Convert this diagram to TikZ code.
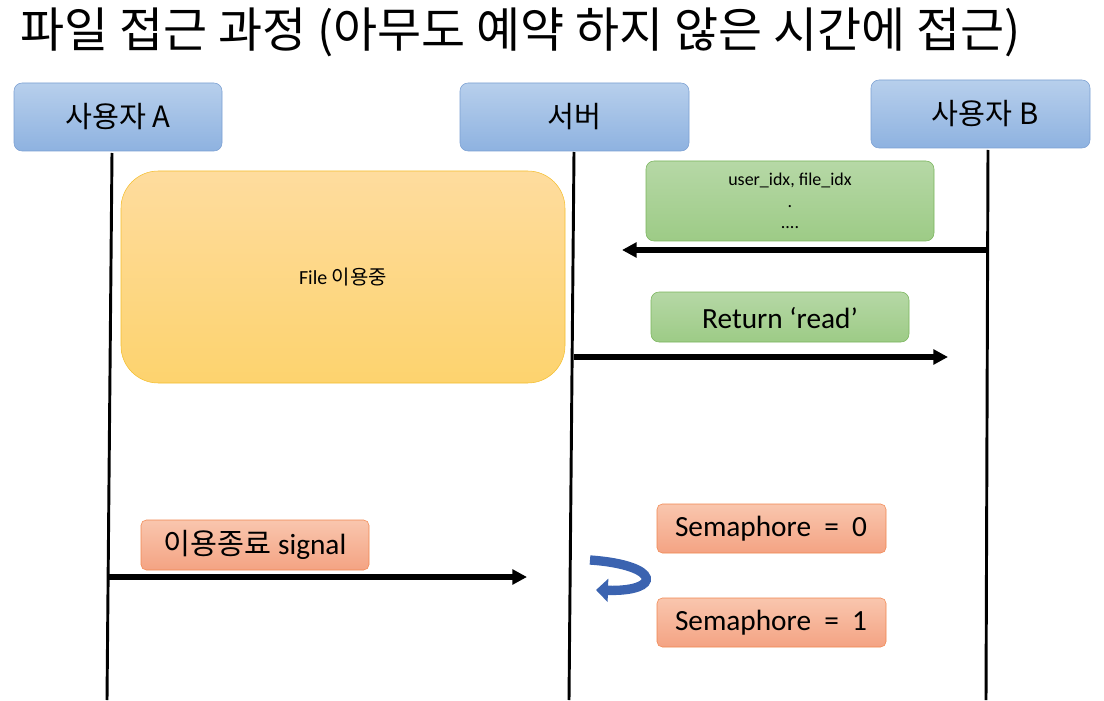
\documentclass[tikz,border=0pt]{standalone}
\usepackage{fontspec}
\setmainfont{Carlito}
\newfontfamily\kr{Noto Sans CJK KR}
\usetikzlibrary{arrows.meta}
\definecolor{bluetop}{HTML}{B7CFEC}
\definecolor{bluebot}{HTML}{8EB2E0}
\definecolor{blueline}{HTML}{7A9FD2}
\definecolor{yeltop}{HTML}{FEDC9E}
\definecolor{yelbot}{HTML}{FDD36E}
\definecolor{yelline}{HTML}{F4BE2E}
\definecolor{grntop}{HTML}{B6D8A6}
\definecolor{grnbot}{HTML}{9DCB86}
\definecolor{grnline}{HTML}{79B45C}
\definecolor{ortop}{HTML}{F9C6AE}
\definecolor{orbot}{HTML}{F4A383}
\definecolor{orline}{HTML}{F0864F}
\definecolor{curl}{HTML}{3B63B0}
\begin{document}
\begin{tikzpicture}[x=0.0264cm,y=-0.0264cm,
 actor/.style={draw=blueline,top color=bluetop,bottom color=bluebot,rounded corners=6pt},
 gbox/.style={draw=grnline,top color=grntop,bottom color=grnbot,rounded corners=6pt},
 obox/.style={draw=orline,top color=ortop,bottom color=orbot,rounded corners=4pt},
 big/.style={font=\fontsize{22}{26}\selectfont},
 life/.style={line width=2.2pt},
 msg/.style={line width=3.8pt,-{Triangle[length=11pt,width=11pt]}}]
\useasboundingbox (0,0) rectangle (1104,701);
\node[anchor=west,font=\kr\fontsize{36}{42}\selectfont,inner sep=0] (title) at (20,32) {파일 접근 과정 (아무도 예약 하지 않은 시간에 접근)};
\path[actor] (14,83) rectangle (222,151); \node[font=\kr\fontsize{22}{26}\selectfont] (A) at (118,117) {사용자 A};
\path[actor] (460,83) rectangle (689,151); \node[font=\kr\fontsize{22}{26}\selectfont] (S) at (574,117) {서버};
\path[actor] (871,80) rectangle (1090,148); \node[font=\kr\fontsize{22}{26}\selectfont] (B) at (985,114) {사용자 B};
\coordinate (a1) at (112,153); \coordinate (a2) at (107,700);
\coordinate (s1) at (574,152); \coordinate (s2) at (569,700);
\coordinate (b1) at (988,150); \coordinate (b2) at (986,700);
\draw[life] (a1)--(a2); \draw[life] (s1)--(s2); \draw[life] (b1)--(b2);
\path[draw=yelline,top color=yeltop,bottom color=yelbot,rounded corners=28pt] (121,171) rectangle (565,383);
\node (use) at (343,277) {\fontsize{15}{18}\selectfont File {\kr 이용중}};
\path[gbox] (646,161) rectangle (934,241);
\node[align=center,font=\fontsize{13.5}{16}\selectfont] (g1) at (790,201) {user\_idx, file\_idx\\.\\....};
\coordinate (m1s) at (988,250); \coordinate (m1e) at (622,250);
\draw[msg] (m1s)--(m1e);
\path[gbox] (651,292) rectangle (909,342);
\node[big] (ret) at (780,318) {Return ‘read’};
\coordinate (m2s) at (574,357); \coordinate (m2e) at (948,357);
\draw[msg] (m2s)--(m2e);
\path[obox] (141,520) rectangle (369,570);
\node[big] (sig) at (255,545) {{\kr 이용종료} signal};
\path[obox] (657,504) rectangle (886,553);
\node[big] (sem0) at (771,529) {Semaphore\ \ =\ \ 0};
\path[obox] (657,598) rectangle (886,647);
\node[big] (sem1) at (771,623) {Semaphore\ \ =\ \ 1};
\coordinate (m3s) at (108,577); \coordinate (m3e) at (527,577);
\draw[msg] (m3s)--(m3e);
\draw[curl,line width=7pt,-{Triangle[length=9pt,width=17pt]}] (590,560) .. controls (662,565) and (662,592) .. (596,590);
\end{tikzpicture}
\end{document}
